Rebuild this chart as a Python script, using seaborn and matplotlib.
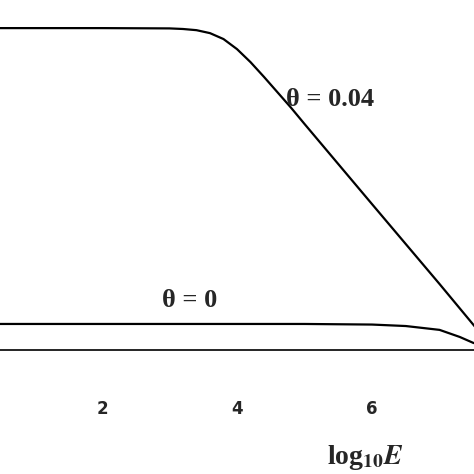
import matplotlib
matplotlib.use("Agg")
import matplotlib.pyplot as plt
import seaborn as sns
import pandas as pd

x_top = [0.4, 1, 2, 3, 3.2, 3.4, 3.6, 3.8, 4.0, 4.2, 4.4, 4.6, 4.8, 5, 6, 7, 7.6]
y_top = [1, 1, 1, 0.999, 0.997, 0.993, 0.983, 0.963, 0.929, 0.885, 0.835, 0.783, 0.731, 0.676, 0.405, 0.135, -0.03]
x_bot = [0.4, 1, 2, 3, 4, 5, 6, 6.5, 7, 7.3, 7.5, 7.6]
y_bot = [0, 0, 0, 0, 0, 0, -0.002, -0.007, -0.02, -0.044, -0.064, -0.07]

sns.set_style("white")
plt.rcParams["mathtext.fontset"] = "stix"
fig = plt.figure(figsize=(4.74, 4.74), dpi=100)
ax = fig.add_axes([0, 1 - 350/474, 1, 350/474])
df1 = pd.DataFrame({"x": x_top, "y": y_top})
df2 = pd.DataFrame({"x": x_bot, "y": y_bot})
sns.lineplot(data=df1, x="x", y="y", ax=ax, color="black", lw=1.6)
sns.lineplot(data=df2, x="x", y="y", ax=ax, color="black", lw=1.6)
ax.set_xlim(0.49, 7.51)
ax.set_ylim(-0.088, 1.095)
for s in ["left", "right", "top"]:
    ax.spines[s].set_visible(False)
ax.spines["bottom"].set_linewidth(1.2)
ax.spines["bottom"].set_color("black")
ax.set_yticks([])
ax.set_xticks([2, 4, 6])
ax.set_xticks([i * 0.2 for i in range(3, 38)], minor=True)
ax.tick_params(axis="x", which="major", direction="in", length=6, width=1, pad=36,
               labelsize=12)
ax.tick_params(axis="x", which="minor", direction="in", length=3, width=0.8)
for t in ax.get_xticklabels():
    t.set_fontweight("bold")
ax.set_xlabel("")
ax.set_ylabel("")
fs = {"family": "Liberation Serif", "weight": "bold", "size": 19}
ax.text(5.38, 0.76, "θ = 0.04", ha="center", va="center", **fs)
ax.text(3.3, 0.08, "θ = 0", ha="center", va="center", **fs)
fig.text(365/474, 1 - 457/474, r"log$_{\mathbf{10}}$$\boldsymbol{E}$", ha="center", va="center",
         family="Liberation Serif", weight="bold", size=20)
fig.savefig("out.png", dpi=100)
